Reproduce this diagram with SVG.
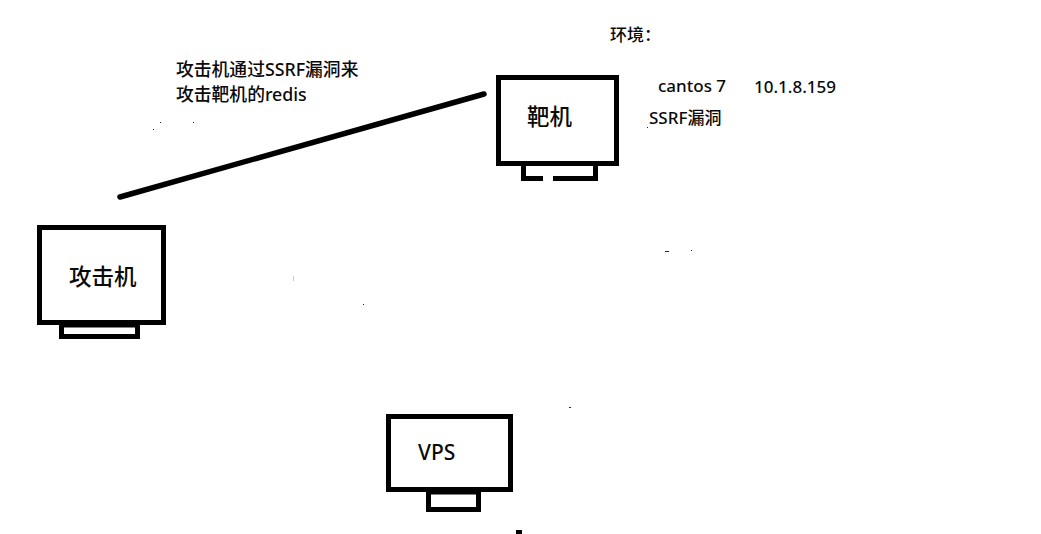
<svg xmlns="http://www.w3.org/2000/svg" width="1041" height="534" viewBox="0 0 1041 534">
<style>
.k{fill:none;stroke:#000;stroke-width:5}
.t{font-family:"Noto Sans","Noto Sans CJK SC",sans-serif;fill:#0a0a0a;font-weight:500}
.s{font-size:17.8px}
.b{font-size:22.5px}
.m{font-size:17px}
.d{fill:#222}
</style>
<rect width="1041" height="534" fill="#fff"/>
<g id="connectors">
<line x1="120" y1="197" x2="484" y2="94" stroke="#000" stroke-width="5.500" stroke-linecap="round"/>
</g>
<g id="attacker">
<rect class="k" x="39.500" y="227.500" width="124" height="95"/>
<rect class="k" x="61.500" y="325" width="76" height="11.500"/>
<text class="t b" x="69" y="285">攻击机</text>
</g>
<g id="target">
<rect class="k" x="498.500" y="77.500" width="118" height="86"/>
<path class="k" d="M523.500 166V178.500H543M553 178.500H595.500V166"/>
<text class="t b" x="527" y="125">靶机</text>
</g>
<g id="vps">
<rect class="k" x="388.500" y="416.500" width="122" height="73"/>
<rect class="k" x="428.500" y="492" width="50" height="17.500"/>
<text class="t" x="418" y="460" font-size="21">VPS</text>
</g>
<g id="labels">
<text class="t s" x="176" y="76">攻击机通过SSRF漏洞来</text>
<text class="t s" x="176" y="101">攻击靶机的redis</text>
<text class="t m" x="610" y="41">环境：</text>
<text class="t m" x="658" y="92">cantos 7</text>
<text class="t m" x="754" y="93">10.1.8.159</text>
<text class="t m" x="649" y="124">SSRF漏洞</text>
</g>
<g id="specks">
<rect x="516" y="530" width="6" height="4" fill="#000"/>
<rect class="d" x="665" y="251" width="4" height="1"/>
<rect class="d" x="691" y="250" width="1" height="1"/>
<rect class="d" x="569" y="407" width="2" height="1"/>
<rect class="d" x="160" y="122" width="1" height="1"/>
<rect class="d" x="193" y="122" width="1" height="1"/>
<rect class="d" x="153" y="129" width="1" height="1"/>
<rect class="d" x="363" y="304" width="1" height="1"/>
<rect x="293" y="276" width="1" height="5" fill="#e8d070"/>
<rect class="d" x="647" y="127" width="1" height="1"/>
</g>
</svg>
